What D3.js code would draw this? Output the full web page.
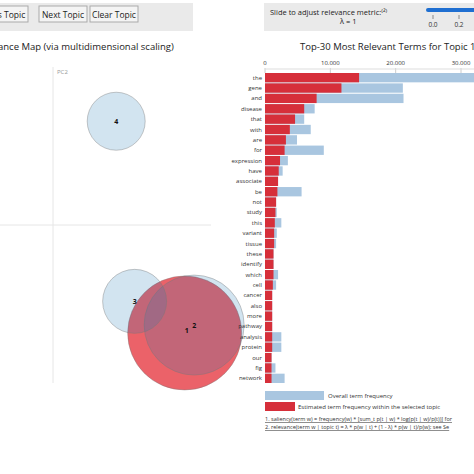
<!DOCTYPE html><html><head><meta charset="utf-8">
<script src="https://cdn.jsdelivr.net/npm/d3@7"></script>
<style>body{margin:0;background:#fff;font-family:"Open Sans",Arial,sans-serif}</style></head><body>
<script>
const terms=["the","gene","and","disease","that","with","are","for","expression","have","associate","be","not","study","this","variant","tissue","these","identify","which","cell","cancer","also","more","pathway","analysis","protein","our","fig","network"];
const topicFreq=[14400,11700,7900,6000,4600,3800,3200,3000,2300,2100,2000,1900,1700,1600,1500,1400,1400,1300,1300,1300,1200,1100,1100,1100,1100,1100,1100,1000,1000,1000];
const totalFreq=[36500,21100,21200,7600,6000,7000,4900,9000,3500,2700,2000,5600,1700,1800,2500,1800,1700,1300,1300,2000,1700,1100,1100,1100,1100,2500,2500,1000,1600,3000];
const xTicks=[0,10000,20000,30000];
const topics=[{id:"1",x:0.25,y:-0.205,r:57,sel:true},{id:"2",x:0.268,y:-0.19,r:50,sel:false},{id:"3",x:0.155,y:-0.145,r:32,sel:false},{id:"4",x:0.12,y:0.197,r:29,sel:false}];

const svg=d3.select("body").append("svg").attr("width",474).attr("height",474);
svg.append("rect").attr("x",0).attr("y",3).attr("width",193).attr("height",28).attr("fill","#eaeaea");
[["s Topic",-5,33],["Next Topic",39,48],["Clear Topic",90,48]].forEach(b=>{
 svg.append("rect").attr("x",b[1]).attr("y",6).attr("width",b[2]).attr("height",16).attr("fill","#f4f4f4").attr("stroke","#aaa");
 svg.append("text").attr("x",b[1]+b[2]/2).attr("y",17.5).attr("text-anchor","middle").attr("font-size",8.5).attr("fill","#222").text(b[0]);});
svg.append("rect").attr("x",264).attr("y",3).attr("width",210).attr("height",28).attr("fill","#eaeaea");
svg.append("text").attr("x",270).attr("y",15).attr("font-size",7.5).attr("fill","#222").text("Slide to adjust relevance metric:⁽²⁾");
svg.append("text").attr("x",340).attr("y",24).attr("font-size",7.5).attr("fill","#222").text("λ = 1");
svg.append("rect").attr("x",426).attr("y",8).attr("width",50).attr("height",4).attr("rx",2).attr("fill","#1f6fd1");
const sx=d3.scaleLinear().domain([0,0.2]).range([433,459]);
[0,0.2].forEach(v=>{svg.append("line").attr("x1",sx(v)).attr("x2",sx(v)).attr("y1",15).attr("y2",19).attr("stroke","#888");
 svg.append("text").attr("x",sx(v)).attr("y",27).attr("text-anchor","middle").attr("font-size",6.5).attr("fill","#333").text(v.toFixed(1));});
svg.append("text").attr("x",-2).attr("y",50).attr("font-size",9.5).attr("fill","#222").text("ance Map (via multidimensional scaling)");
svg.append("text").attr("x",300).attr("y",50).attr("font-size",9.5).attr("fill","#222").text("Top-30 Most Relevant Terms for Topic 1 (");

const mx=d3.scaleLinear().domain([0,0.3]).range([53,211]);
const my=d3.scaleLinear().domain([-0.3,0.3]).range([383,67]);
svg.append("line").attr("x1",mx(0)).attr("x2",mx(0)).attr("y1",67).attr("y2",383).attr("stroke","#e6e6e6");
svg.append("line").attr("x1",0).attr("x2",211).attr("y1",my(0)).attr("y2",my(0)).attr("stroke","#e6e6e6");
svg.append("text").attr("x",57).attr("y",74).attr("font-size",6).attr("fill","#999").text("PC2");
topics.forEach(t=>{svg.append("circle").attr("cx",mx(t.x)).attr("cy",my(t.y)).attr("r",t.r)
 .attr("fill",t.sel?"#e8474f":"#1f77b4").attr("fill-opacity",t.sel?0.85:0.2).attr("stroke","#777").attr("stroke-opacity",0.4);});
topics.forEach(t=>{svg.append("text").attr("x",mx(t.x)+(t.id==="1"?2:t.id==="2"?0:0)).attr("y",my(t.y)+(t.id==="1"?0:t.id==="2"?3:3)).attr("text-anchor","middle").attr("font-size",7).attr("fill","#111").attr("font-weight","bold").text(t.id);});

const x=d3.scaleLinear().domain([0,30000]).range([265,461]);
const y=d3.scaleBand().domain(terms).range([73,383]).paddingInner(0.1);
const g=svg.append("g");
g.selectAll(".t").data(terms).join("rect").attr("x",x(0)).attr("y",d=>y(d)).attr("height",y.bandwidth())
 .attr("width",(d,i)=>x(totalFreq[i])-x(0)).attr("fill","#a9c6e0");
g.selectAll(".r").data(terms).join("rect").attr("x",x(0)).attr("y",d=>y(d)).attr("height",y.bandwidth())
 .attr("width",(d,i)=>x(topicFreq[i])-x(0)).attr("fill","#d62f3a");
g.selectAll(".l").data(terms).join("text").attr("x",x(0)-3).attr("y",d=>y(d)+y.bandwidth()/2+2).attr("text-anchor","end").attr("font-size",6).attr("fill","#333").text(d=>d);
xTicks.forEach(v=>{svg.append("text").attr("x",x(v)).attr("y",65).attr("text-anchor","middle").attr("font-size",6).attr("fill","#333").text(d3.format(",")(v).replace(",","."));
 svg.append("line").attr("x1",x(v)).attr("x2",x(v)).attr("y1",68).attr("y2",73).attr("stroke","#ccc");});
svg.append("line").attr("x1",265).attr("x2",474).attr("y1",69).attr("y2",69).attr("stroke","#ddd");
svg.append("rect").attr("x",265).attr("y",391).attr("width",59).attr("height",9).attr("fill","#a9c6e0");
svg.append("text").attr("x",328).attr("y",398).attr("font-size",6).attr("fill","#333").text("Overall term frequency");
svg.append("rect").attr("x",265).attr("y",402).attr("width",30).attr("height",9).attr("fill","#d62f3a");
svg.append("text").attr("x",298).attr("y",409).attr("font-size",6).attr("fill","#333").text("Estimated term frequency within the selected topic");
svg.append("text").attr("x",265).attr("y",421).attr("font-size",5.5).attr("fill","#333").attr("text-decoration","underline").text("1. saliency(term w) = frequency(w) * [sum_t p(t | w) * log(p(t | w)/p(t))] for");
svg.append("text").attr("x",265).attr("y",429).attr("font-size",5.5).attr("fill","#333").attr("text-decoration","underline").text("2. relevance(term w | topic t) = λ * p(w | t) + (1 - λ) * p(w | t)/p(w); see Se");
</script></body></html>
